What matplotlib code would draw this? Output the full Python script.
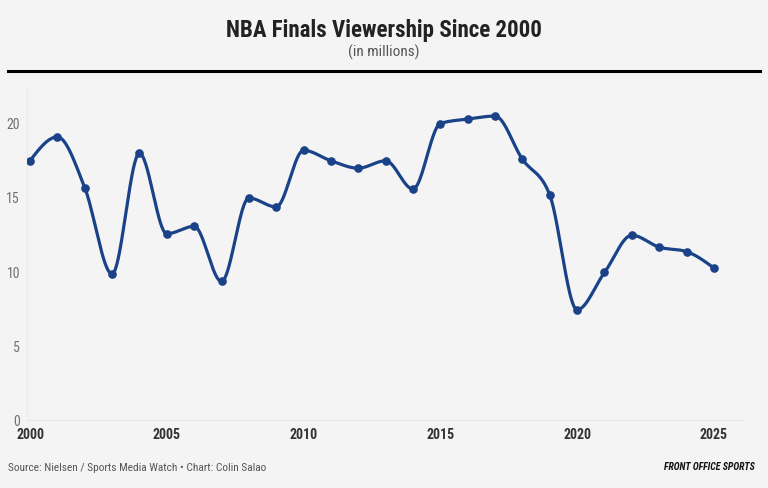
import numpy as np
import matplotlib
matplotlib.use("Agg")
import matplotlib.pyplot as plt
from matplotlib import font_manager

years = list(range(2000, 2026))
viewers = [17.4, 19.0, 15.6, 9.8, 17.9, 12.5, 13.0, 9.3, 14.9, 14.3,
           18.1, 17.4, 16.9, 17.4, 15.5, 19.9, 20.2, 20.4, 17.5, 15.1,
           7.4, 9.9, 12.4, 11.6, 11.3, 10.2]
y_ticks = [0, 5, 10, 15, 20]
x_ticks = [2000, 2005, 2010, 2015, 2020, 2025]

title = "NBA Finals Viewership Since 2000"
subtitle = "(in millions)"
source = "Source: Nielsen / Sports Media Watch \u2022 Chart: Colin Salao"
brand = "FRONT OFFICE SPORTS"

avail = {f.name for f in font_manager.fontManager.ttflist}
cond = [f for f in ["Roboto Condensed", "Liberation Sans Narrow", "Roboto", "DejaVu Sans"] if f in avail]
fam = cond + ["DejaVu Sans"]

BG = "#f4f4f4"
LINE = "#1a4289"


def monotone(x, y, n=40):
    x = np.asarray(x, float)
    y = np.asarray(y, float)
    h = np.diff(x)
    s = np.diff(y) / h
    m = np.zeros_like(y)
    for i in range(1, len(y) - 1):
        h0, h1 = h[i - 1], h[i]
        s0, s1 = s[i - 1], s[i]
        p = (s0 * h1 + s1 * h0) / (h0 + h1)
        m[i] = (np.sign(s0) + np.sign(s1)) * min(abs(s0), abs(s1), 0.5 * abs(p))
    m[0] = (3 * s[0] - m[1]) / 2
    m[-1] = (3 * s[-1] - m[-2]) / 2
    xs, ys = [], []
    for i in range(len(x) - 1):
        t = np.linspace(0, 1, n, endpoint=(i == len(x) - 2))
        hh = h[i]
        h00 = 2 * t**3 - 3 * t**2 + 1
        h10 = t**3 - 2 * t**2 + t
        h01 = -2 * t**3 + 3 * t**2
        h11 = t**3 - t**2
        xs.append(x[i] + t * hh)
        ys.append(h00 * y[i] + h10 * hh * m[i] + h01 * y[i + 1] + h11 * hh * m[i + 1])
    return np.concatenate(xs), np.concatenate(ys)


fig = plt.figure(figsize=(7.68, 4.89), dpi=100, facecolor=BG)
ax = fig.add_axes([27 / 768, 68 / 489, (744 - 27) / 768, (401 - 68) / 489], facecolor=BG)

sx, sy = monotone(years, viewers)
ax.plot(sx, sy, color=LINE, lw=2.3, solid_capstyle="round", zorder=3)
ax.plot(years, viewers, "o", color=LINE, ms=5.2, zorder=4)

ax.set_xlim(1999.89, 2026.1)
ax.set_ylim(0, 22.35)
ax.set_xticks(x_ticks)
ax.set_yticks(y_ticks)
ax.set_xticklabels([str(v) for v in x_ticks], fontfamily=fam, fontweight="bold",
                   fontsize=10, color="#333333")
ax.set_yticklabels([str(v) for v in y_ticks], fontfamily=fam, fontsize=10, color="#707070")
ax.tick_params(axis="x", length=0, pad=5)
ax.tick_params(axis="y", length=0, pad=5)
for sp in ["top", "right"]:
    ax.spines[sp].set_visible(False)
ax.spines["left"].set_color("#ebebeb")
ax.spines["bottom"].set_color("#e6e6e6")
ax.spines["left"].set_linewidth(0.8)
ax.spines["bottom"].set_linewidth(0.8)

fig.text(0.5, 1 - 31 / 489, title, ha="center", va="center", fontfamily=fam,
         fontweight="bold", fontsize=16.5, color="#222222")
fig.text(0.5, 1 - 52 / 489, subtitle, ha="center", va="center", fontfamily=fam,
         fontsize=11, color="#555555")
fig.add_artist(plt.Line2D([8 / 768, 760 / 768], [1 - 72 / 489, 1 - 72 / 489],
                          color="black", lw=2.2, transform=fig.transFigure))
fig.text(8 / 768, 1 - 468 / 489, source, ha="left", va="center", fontfamily=fam,
         fontsize=8.2, color="#555555")
fig.text(755 / 768, 1 - 467 / 489, brand, ha="right", va="center", fontfamily=fam,
         fontsize=7.1, fontweight="bold", fontstyle="italic", color="#111111")

fig.savefig("out.png", dpi=100, facecolor=BG)
